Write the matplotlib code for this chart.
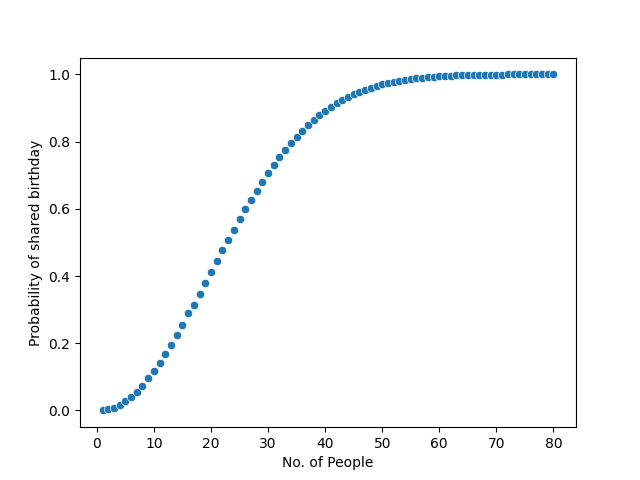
import matplotlib
matplotlib.use("Agg")
import matplotlib.pyplot as plt
import seaborn as sns

# number of people in the room
people = list(range(1, 81))

# probability that at least two share a birthday
prob_shared = [
    0.000, 0.003, 0.008, 0.016, 0.027, 0.040, 0.056, 0.074, 0.095, 0.117,
    0.141, 0.167, 0.194, 0.223, 0.253, 0.289, 0.315, 0.347, 0.379, 0.411,
    0.444, 0.476, 0.507, 0.538, 0.569, 0.598, 0.627, 0.654, 0.681, 0.706,
    0.730, 0.753, 0.775, 0.795, 0.814, 0.832, 0.849, 0.864, 0.878, 0.891,
    0.903, 0.914, 0.924, 0.933, 0.941, 0.948, 0.955, 0.961, 0.966, 0.970,
    0.974, 0.978, 0.981, 0.984, 0.986, 0.988, 0.990, 0.992, 0.993, 0.994,
    0.995, 0.996, 0.997, 0.997, 0.998, 0.998, 0.998, 0.999, 0.999, 0.999,
    0.999, 1.000, 1.000, 1.000, 1.000, 1.000, 1.000, 1.000, 1.000, 1.000,
]

fig, ax = plt.subplots(figsize=(6.4, 4.8), dpi=100)
sns.scatterplot(x=people, y=prob_shared, ax=ax)
ax.set_xlabel('No. of People')
ax.set_ylabel('Probability of shared birthday')
fig.savefig('out.png')
